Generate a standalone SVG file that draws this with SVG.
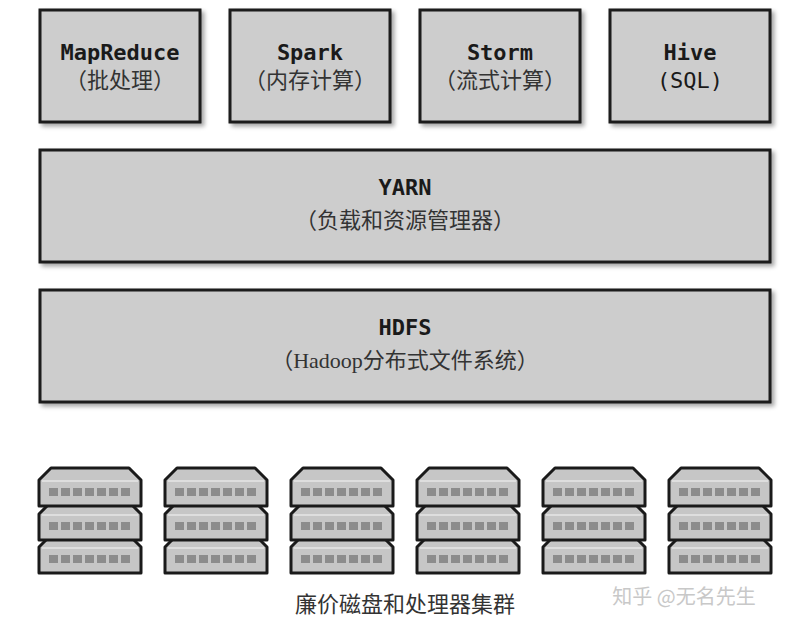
<svg xmlns="http://www.w3.org/2000/svg" width="787" height="629" viewBox="0 0 787 629">
<defs>
<filter id="sh" x="-5%" y="-5%" width="115%" height="120%"><feDropShadow dx="3" dy="3" stdDeviation="2" flood-color="#000" flood-opacity="0.35"/></filter>
<g id="unit">
<path d="M0,12 L12,0 L90,0 L102,12 L102,38 L0,38 Z" fill="#c6c6c6" stroke="#1a1a1a" stroke-width="3" stroke-linejoin="round"/>
<line x1="3" y1="13" x2="99" y2="13" stroke="#e6e6e6" stroke-width="1.5"/>
<g fill="#8c8c8c"><rect x="10" y="20" width="9" height="8"/><rect x="22" y="20" width="9" height="8"/><rect x="34" y="20" width="9" height="8"/><rect x="46" y="20" width="9" height="8"/><rect x="58" y="20" width="9" height="8"/><rect x="70" y="20" width="9" height="8"/><rect x="82" y="20" width="9" height="8"/></g>
</g>
<g id="stack"><use href="#unit" y="67"/><use href="#unit" y="34"/><use href="#unit" y="0"/></g>
</defs>
<style>
.box{fill:#cdcdcd;stroke:#1a1a1a;stroke-width:3;filter:url(#sh)}
.t{font-family:"DejaVu Sans Mono",monospace;font-weight:bold;font-size:22px;fill:#1a1a1a;text-anchor:middle}
.c{font-family:"Liberation Serif","Noto Sans CJK SC",serif;font-size:22px;fill:#333;text-anchor:middle}
</style>
<rect width="787" height="629" fill="#fff"/>
<g id="mapreduce"><rect class="box" x="40" y="10" width="160" height="112"/><text class="t" x="120" y="60">MapReduce</text><text class="c" x="120" y="88">（批处理）</text></g>
<g id="spark"><rect class="box" x="230" y="10" width="160" height="112"/><text class="t" x="310" y="60">Spark</text><text class="c" x="310" y="88">（内存计算）</text></g>
<g id="storm"><rect class="box" x="420" y="10" width="160" height="112"/><text class="t" x="500" y="60">Storm</text><text class="c" x="500" y="88">（流式计算）</text></g>
<g id="hive"><rect class="box" x="610" y="10" width="160" height="112"/><text class="t" x="690" y="60">Hive</text><text class="t" x="690" y="88" style="font-weight:normal">(SQL)</text></g>
<g id="yarn"><rect class="box" x="40" y="150" width="730" height="112"/><text class="t" x="405" y="195">YARN</text><text class="c" x="405" y="228">（负载和资源管理器）</text></g>
<g id="hdfs"><rect class="box" x="40" y="290" width="730" height="112"/><text class="t" x="405" y="335">HDFS</text><text class="c" x="405" y="368">（Hadoop分布式文件系统）</text></g>
<g id="cluster">
<use href="#stack" x="39" y="468"/><use href="#stack" x="165" y="468"/><use href="#stack" x="291" y="468"/><use href="#stack" x="417" y="468"/><use href="#stack" x="543" y="468"/><use href="#stack" x="669" y="468"/>
<text class="c" x="405" y="612">廉价磁盘和处理器集群</text>
</g>
<g id="connectors"/>
<text x="684" y="604" style="font-family:'Noto Sans CJK SC',sans-serif;font-size:20px;fill:#c8c8c8;text-anchor:middle">知乎 @无名先生</text>
</svg>
